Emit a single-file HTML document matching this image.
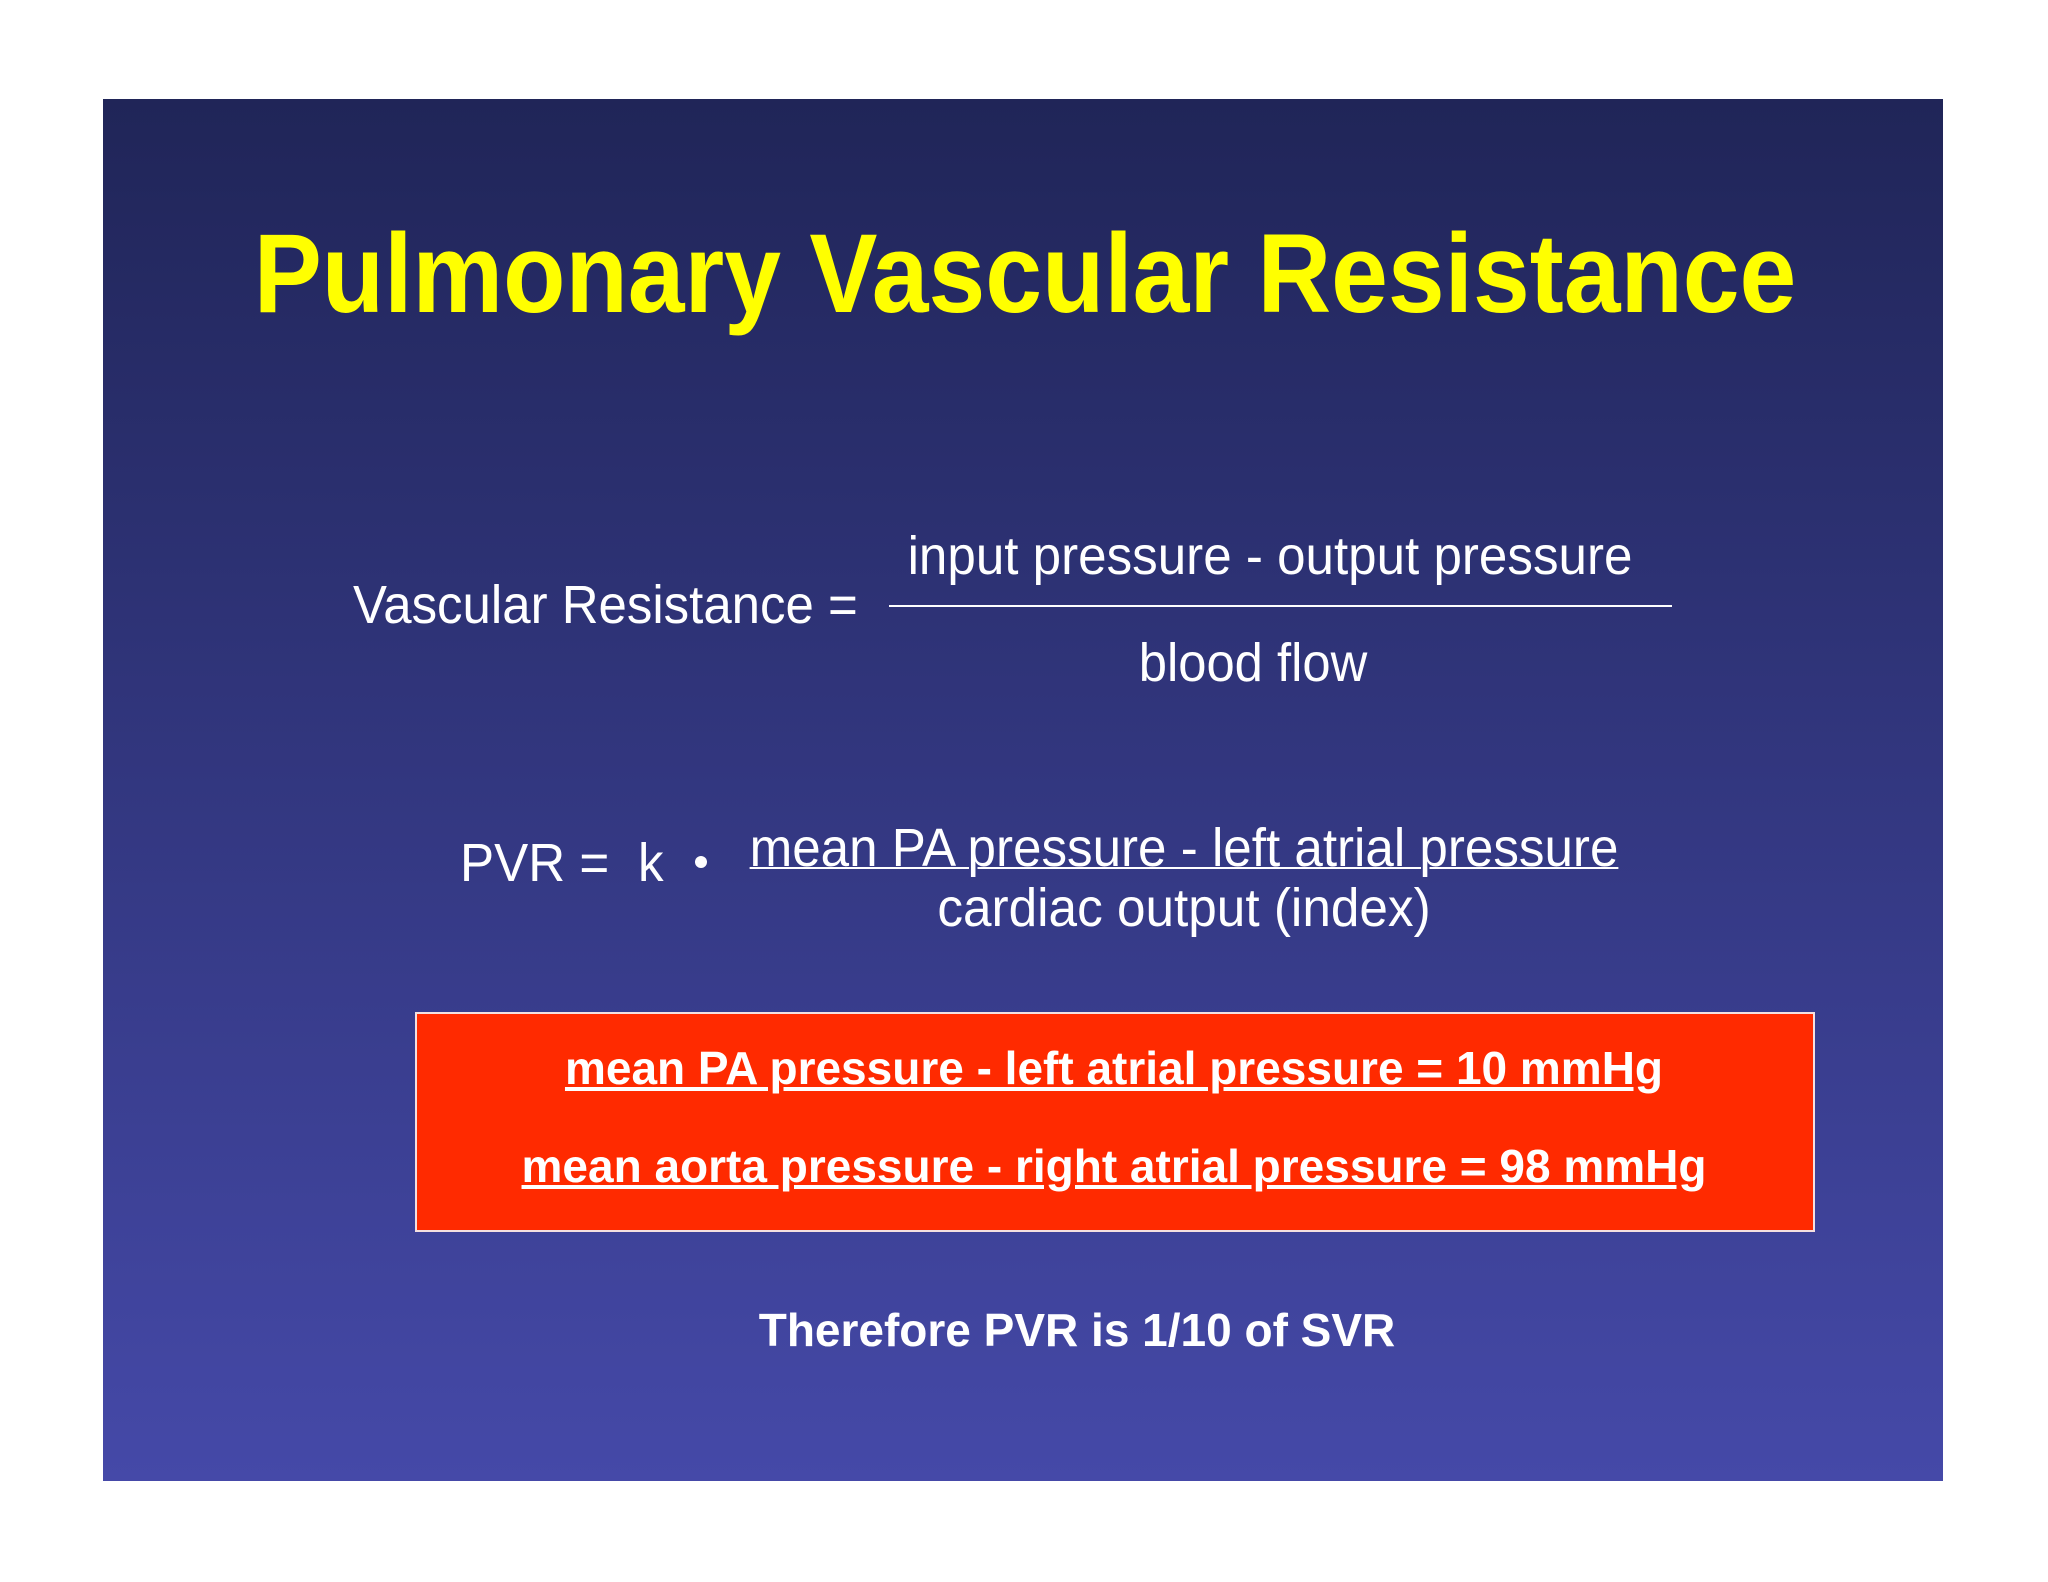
<!DOCTYPE html>
<html><head><style>
body{margin:0;width:2048px;height:1582px;background:#fff;position:relative;overflow:hidden;font-family:"Liberation Sans",Arial,sans-serif}
.slide{position:absolute;left:103px;top:99px;width:1840px;height:1382px;background:linear-gradient(#202558,#4549a8)}
.t{position:absolute;line-height:1;white-space:nowrap;color:#fff;transform-origin:0 0}
</style></head><body>
<div class="slide"></div>
<div class="t" style="left:1025px;top:218px;font-size:112px;font-weight:bold;color:#ffff00;transform:translateX(-50%) scaleX(0.911);transform-origin:50% 0">Pulmonary Vascular Resistance</div>
<div class="t" style="left:353px;top:578px;font-size:54px;transform:scaleX(0.944)">Vascular Resistance =</div>
<div class="t" style="left:1270px;top:529px;font-size:54px;transform:translateX(-50%) scaleX(0.947);transform-origin:50% 0">input pressure - output pressure</div>
<div style="position:absolute;left:889px;top:605px;width:783px;height:2px;background:#fff"></div>
<div class="t" style="left:1253px;top:636px;font-size:54px;transform:translateX(-50%) scaleX(0.94);transform-origin:50% 0">blood flow</div>
<div class="t" style="left:460px;top:836px;font-size:54px;transform:scaleX(0.947)">PVR =</div>
<div class="t" style="left:638px;top:836px;font-size:54px;transform:scaleX(0.947)">k</div>
<div style="position:absolute;left:695px;top:856px;width:12px;height:12px;border-radius:50%;background:#fff"></div>
<div class="t" style="left:1184px;top:821px;font-size:54px;text-decoration:underline;text-decoration-thickness:2px;transform:translateX(-50%) scaleX(0.947);transform-origin:50% 0">mean PA pressure - left atrial pressure</div>
<div class="t" style="left:1184px;top:881px;font-size:54px;transform:translateX(-50%) scaleX(0.95);transform-origin:50% 0">cardiac output (index)</div>
<div style="position:absolute;left:415px;top:1012px;width:1396px;height:216px;background:#ff2a00;border:2px solid #f4e0e0"></div>
<div class="t" style="left:1114px;top:1045px;font-size:46px;font-weight:bold;text-decoration:underline;transform:translateX(-50%);transform-origin:50% 0">mean PA pressure - left atrial pressure = 10 mmHg</div>
<div class="t" style="left:1114px;top:1143px;font-size:46px;font-weight:bold;text-decoration:underline;transform:translateX(-50%);transform-origin:50% 0">mean aorta pressure - right atrial pressure = 98 mmHg</div>
<div class="t" style="left:1077px;top:1307px;font-size:46px;font-weight:bold;transform:translateX(-50%);transform-origin:50% 0">Therefore PVR is 1/10 of SVR</div>
</body></html>
